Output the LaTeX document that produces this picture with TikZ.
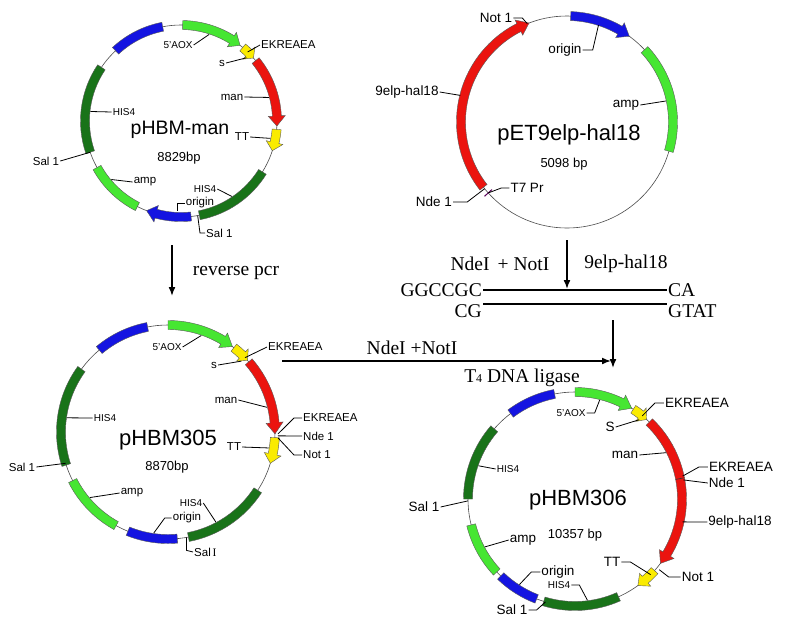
\documentclass[tikz,border=0pt]{standalone}
\usepackage{fontspec}
\setmainfont{Liberation Serif}
\setsansfont{Liberation Sans}
\usetikzlibrary{arrows.meta}
\definecolor{blu}{RGB}{20,20,225}
\definecolor{lgr}{RGB}{70,230,50}
\definecolor{dgr}{RGB}{25,115,25}
\definecolor{rd}{RGB}{235,20,15}
\definecolor{yel}{RGB}{250,235,0}
\newcommand\fband[4]{%
 \pgfmathsetmacro\ro{#1+4.5}\pgfmathsetmacro\ri{#1-4.5}%
 \draw[fill=#4,draw=black!65,line width=0.4pt] (#2:\ro pt) arc[start angle=#2,end angle=#3,radius=\ro pt] -- (#3:\ri pt) arc[start angle=#3,end angle=#2,radius=\ri pt] -- cycle;}
\newcommand\farr[5]{%
 \pgfmathsetmacro\ro{#1+4.5}\pgfmathsetmacro\ri{#1-4.5}%
 \pgfmathsetmacro\rO{#1+8.5}\pgfmathsetmacro\rI{#1-8.5}%
 \pgfmathsetmacro\hb{#3+#4}%
 \draw[fill=#5,draw=black!65,line width=0.4pt] (#2:\ro pt) arc[start angle=#2,end angle=\hb,radius=\ro pt] -- (\hb:\rO pt) -- (#3:#1 pt) -- (\hb:\rI pt) -- (\hb:\ri pt) arc[start angle=\hb,end angle=#2,radius=\ri pt] -- cycle;}
\newcommand\lead[4]{\draw[ld] (#1) -- ([shift={(#2)}]#3:#4pt);}
\begin{document}
\begin{tikzpicture}[x=1pt,y=1pt,
 lab/.style={font=\sffamily\fontsize{11.5}{13}\selectfont,inner sep=1pt},
 sml/.style={font=\sffamily\fontsize{10}{12}\selectfont,inner sep=1pt},
 lbg/.style={font=\sffamily\fontsize{13.5}{15}\selectfont,inner sep=1pt},
 big/.style={font=\sffamily\fontsize{22}{24}\selectfont,inner sep=0pt},
 bp/.style={font=\sffamily\fontsize{13}{15}\selectfont,inner sep=0pt},
 ser/.style={font=\fontsize{19.5}{22}\selectfont,inner sep=1pt},
 ld/.style={line width=0.8pt,black},
 ring/.style={line width=0.6pt,black!70},
 bigarr/.style={line width=1.6pt,-{Latex[length=9pt,width=7pt]}},
 dna/.style={line width=2.4pt}]
\useasboundingbox[fill=white] (0,0) rectangle (785,-625);
% ---------- plasmid 1
\coordinate (c1) at (181,-121);
\begin{scope}[shift={(c1)}]
\draw[ring] (0,0) circle[radius=96pt];
\fband{96}{101}{133}{blu}
\farr{96}{89}{52}{6}{lgr}
\farr{96}{50}{41}{4}{yel}
\farr{96}{39}{-3}{6}{rd}
\farr{96}{-5}{-18}{5}{yel}
\fband{96}{-32}{-79}{dgr}
\farr{96}{-84}{-111}{6}{blu}
\fband{96}{-117}{-151}{lgr}
\fband{96}{146}{199}{dgr}
\end{scope}
\node[big,font=\sffamily\fontsize{19.5}{21}\selectfont] (n1) at (180,-130) {pHBM-man};
\node[bp] (b1) at (179,-158) {8829bp};
\node[sml] (a1) at (178,-45) {5'AOX};
\lead{a1.east}{c1}{72}{91}
\node[lab,anchor=west] (e1) at (260,-45) {EKREAEA};
\lead{e1.west}{c1}{46}{96}
\node[lab] (s1) at (222,-63) {s};
\lead{s1.east}{c1}{44}{91}
\node[lab] (m1) at (232,-97) {man};
\lead{m1.east}{c1}{15}{91}
\node[lab] (t1) at (242,-137) {TT};
\lead{t1.east}{c1}{-11}{91}
\node[sml] (h1) at (124,-112) {HIS4};
\lead{h1.west}{c1}{174}{91}
\node[lab] (sa1) at (46,-161) {Sal 1};
\lead{sa1.east}{c1}{199}{96}
\node[lab] (am1) at (145,-182) {amp};
\lead{am1.west}{c1}{-140}{91}
\node[sml] (h1b) at (205,-189) {HIS4};
\lead{h1b.east}{c1}{-56}{91}
\node[lab] (o1) at (200,-203) {origin};
\draw[ld] (o1.west) -- ++(-7,0) -- ++(0,-8);
\node[lab,anchor=west] (sb1) at (205,-233) {Sal 1};
\draw[ld] (sb1.west) -- ++(-5,0) -- ([shift={(c1)}]-80:96pt);
% ---------- plasmid 2
\coordinate (c2) at (567,-122);
\begin{scope}[shift={(c2)}]
\draw[ring] (0,0) circle[radius=106pt];
\farr{106}{218}{111}{6}{rd}
\farr{106}{88}{54}{6}{blu}
\fband{106}{43}{-16}{lgr}
\draw[violet!70!black,line width=1pt] (222:101pt) -- (222:111pt);
\end{scope}
\node[big] (n2) at (569,-135) {pET9elp-hal18};
\node[bp] (b2) at (564,-164) {5098 bp};
\node[lbg] (no2) at (496,-18) {Not 1};
\draw[ld] (no2.east) -- ++(9,0) -- ([shift={(c2)}]112:106pt);
\node[lbg] (el2) at (407,-92) {9elp-hal18};
\lead{el2.east}{c2}{166}{110}
\node[lbg] (o2) at (565,-50) {origin};
\draw[ld] (o2.east) -- ++(10,0) -- ([shift={(c2)}]72:102pt);
\node[lbg] (am2) at (626,-105) {amp};
\lead{am2.east}{c2}{12}{101}
\node[lbg] (t72) at (527,-188) {T7 Pr};
\draw[ld] (t72.west) -- ++(-8,0) -- ([shift={(c2)}]222:106pt);
\node[lbg] (nd2) at (434,-202) {Nde 1};
\draw[ld] (nd2.east) -- ++(14,0) -- ([shift={(c2)}]219:106pt);
% ---------- plasmid 3
\coordinate (c3) at (168,-432);
\begin{scope}[shift={(c3)}]
\draw[ring] (0,0) circle[radius=107pt];
\fband{107}{101}{130}{blu}
\farr{107}{90}{53}{6}{lgr}
\farr{107}{52}{42}{4}{yel}
\farr{107}{41}{-1}{6}{rd}
\farr{107}{-3}{-17}{5}{yel}
\fband{107}{-33}{-79}{dgr}
\fband{107}{-85}{-112}{blu}
\fband{107}{-119}{-153}{lgr}
\fband{107}{144}{198}{dgr}
\end{scope}
\node[big] (n3) at (168,-440) {pHBM305};
\node[bp] (b3) at (167,-467) {8870bp};
\node[sml] (a3) at (167,-347) {5'AOX};
\lead{a3.east}{c3}{71}{102}
\node[lab,anchor=west] (e3) at (267,-347) {EKREAEA};
\lead{e3.west}{c3}{44}{107}
\node[lab] (s3) at (214,-365) {s};
\lead{s3.east}{c3}{44}{102}
\node[lab] (m3) at (226,-400) {man};
\lead{m3.east}{c3}{14}{102}
\node[lab,anchor=west] (e3b) at (302,-418) {EKREAEA};
\draw[ld] (e3b.west) -- ++(-8,0) -- ([shift={(c3)}]-1:110pt);
\node[lab,anchor=west] (nd3) at (302,-436) {Nde 1};
\draw[ld] (nd3.west) -- ([shift={(c3)}]-2:110pt);
\node[lab,anchor=west] (no3) at (302,-455) {Not 1};
\draw[ld] (no3.west) -- ++(-8,0) -- ([shift={(c3)}]-3:110pt);
\node[lab] (t3) at (234,-447) {TT};
\lead{t3.east}{c3}{-9}{102}
\node[sml] (h3) at (105,-418) {HIS4};
\lead{h3.west}{c3}{172}{102}
\node[lab] (sa3) at (22,-467) {Sal 1};
\lead{sa3.east}{c3}{197}{107}
\node[lab] (am3) at (132,-493) {amp};
\lead{am3.west}{c3}{-140}{102}
\node[sml] (h3b) at (191,-503) {HIS4};
\lead{h3b.east}{c3}{-62}{102}
\node[lab] (o3) at (187,-518) {origin};
\draw[ld] (o3.west) -- ++(-7,0) -- ([shift={(c3)}]-98:102pt);
\node[lab,anchor=west] (sb3) at (193,-552) {Sal\,\textrm{I}};
\draw[ld] ([shift={(c3)}]-80:107pt) -- ++(0,-13) -- (sb3.west);
% ---------- plasmid 4
\coordinate (c4) at (575,-499);
\begin{scope}[shift={(c4)}]
\draw[ring] (0,0) circle[radius=107pt];
\fband{107}{101}{127}{blu}
\farr{107}{90}{58}{6}{lgr}
\farr{107}{57}{48}{4}{yel}
\farr{107}{46}{-37}{6}{rd}
\draw[black!80,line width=0.6pt] (11:102.5pt) -- (11:111.5pt);
\farr{107}{-42}{-54}{5}{yel}
\fband{107}{-66}{-107}{dgr}
\fband{107}{-111}{-134}{blu}
\fband{107}{-137}{-166}{lgr}
\fband{107}{139}{180}{dgr}
\end{scope}
\node[big] (n4) at (578,-500) {pHBM306};
\node[bp] (b4) at (575,-535) {10357 bp};
\node[sml] (a4) at (571,-413) {5'AOX};
\draw[ld] (a4.east) -- ++(8,0) -- ([shift={(c4)}]76:102pt);
\node[lbg] (e4) at (697,-403) {EKREAEA};
\draw[ld] (e4.west) -- ++(-9,0) -- ([shift={(c4)}]51:107pt);
\node[lbg] (s4) at (610,-427) {S};
\lead{s4.east}{c4}{51}{102}
\node[lbg] (m4) at (625,-455) {man};
\lead{m4.east}{c4}{27}{102}
\node[lbg] (e4b) at (741,-467) {EKREAEA};
\draw[ld] (e4b.west) -- ++(-9,0) -- ([shift={(c4)}]12:110pt);
\node[lbg] (nd4) at (727,-483) {Nde 1};
\draw[ld] (nd4.west) -- ([shift={(c4)}]10:110pt);
\node[lbg] (el4) at (740,-522) {9elp-hal18};
\lead{el4.west}{c4}{-12}{110}
\node[lbg] (t4) at (612,-562) {TT};
\draw[ld] (t4.east) -- ++(9,0) -- ([shift={(c4)}]-45:107pt);
\node[lbg] (no4) at (698,-577) {Not 1};
\draw[ld] (no4.west) -- ++(-12,0) -- ([shift={(c4)}]-40:110pt);
\node[sml] (h4) at (508,-469) {HIS4};
\lead{h4.west}{c4}{161}{102}
\node[lbg] (sa4) at (424,-507) {Sal 1};
\lead{sa4.east}{c4}{181}{107}
\node[lbg] (am4) at (523,-540) {amp};
\lead{am4.west}{c4}{-152}{102}
\node[lbg] (o4) at (558,-572) {origin};
\draw[ld] (o4.west) -- ++(-9,0) -- ([shift={(c4)}]-123:102pt);
\node[sml] (h4b) at (559,-585) {HIS4};
\draw[ld] (h4b.east) -- ++(8,0) -- ([shift={(c4)}]-83:102pt);
\node[lbg] (sb4) at (512,-610) {Sal 1};
\draw[ld] (sb4.east) -- ++(8,0) -- ([shift={(c4)}]-106:107pt);
% ---------- middle
\coordinate (r1) at (172,-245); \coordinate (r2) at (172,-296);
\draw[bigarr] (r1) -- (r2);
\node[ser] (rp) at (236,-273) {reverse pcr};
\coordinate (d1) at (567,-240); \coordinate (d2) at (567,-289);
\draw[bigarr] (d1) -- (d2);
\node[ser] (nn) at (500,-264) {NdeI\, + NotI};
\node[ser] (eh) at (626,-264) {9elp-hal18};
\node[ser,anchor=east] (g1) at (483,-290) {GGCCGC};
\node[ser,anchor=west] (ca) at (667,-290) {CA};
\draw[dna] (g1.east) -- (g1.east -| ca.west);
\node[ser,anchor=east] (cg) at (483,-311) {CG};
\node[ser,anchor=west] (gt) at (667,-311) {GTAT};
\draw[dna] ([yshift=7pt]cg.east) -- ([yshift=7pt]cg.east -| gt.west);
\coordinate (v1) at (613,-320); \coordinate (v2) at (613,-368);
\draw[bigarr] (v1) -- (v2);
\coordinate (h1s) at (282,-361); \coordinate (h1e) at (611,-361);
\draw[bigarr] (h1s) -- (h1e);
\node[ser] (nn2) at (412,-348) {NdeI +NotI};
\node[ser] (lig) at (522,-378) {T{\fontsize{12}{14}\selectfont 4} DNA ligase};
\end{tikzpicture}
\end{document}
